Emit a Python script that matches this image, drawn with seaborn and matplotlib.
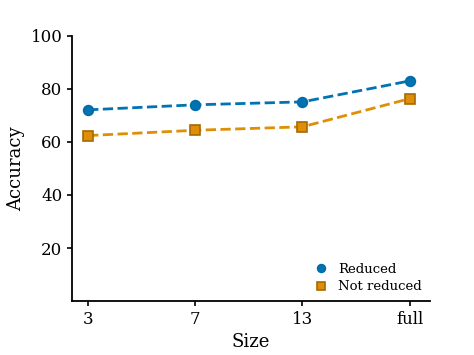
import matplotlib
matplotlib.use("Agg")
import matplotlib.pyplot as plt
import seaborn as sns
import pandas as pd

sizes = ["3", "7", "13", "full"]
reduced = [72.1, 74.0, 75.1, 83.0]
not_reduced = [62.4, 64.4, 65.7, 76.3]
y_ticks = [20, 40, 60, 80, 100]

sns.set_style("ticks", {"axes.edgecolor": "black", "xtick.color": "black",
                        "ytick.color": "black", "text.color": "black",
                        "axes.labelcolor": "black"})
plt.rcParams['font.family'] = ['DejaVu Serif']

df = pd.DataFrame({
    "Size": sizes * 2,
    "Accuracy": reduced + not_reduced,
    "Method": ["Reduced"] * 4 + ["Not reduced"] * 4,
})

pal = sns.color_palette("colorblind")
fig = plt.figure(figsize=(4.74, 3.55), dpi=100)
ax = fig.add_axes([0.152, 0.152, 0.755, 0.747])

sns.pointplot(data=df, x="Size", y="Accuracy", hue="Method",
              palette=[pal[0], pal[1]], markers=["o", "s"],
              linestyles=["--", "--"], ax=ax, markersize=7, linewidth=2.0)
for line in ax.lines:
    c = line.get_color()
    line.set_markeredgecolor(sns.set_hls_values(c, l=0.33))
    line.set_markeredgewidth(1.2)

ax.set_ylim(0, 100)
ax.set_yticks(y_ticks)
ax.set_xlim(-0.15, 3.19)
ax.tick_params(labelsize=12, width=1.2)
for s in ax.spines.values():
    s.set_linewidth(1.3)
ax.set_xlabel("Size", fontsize=13)
ax.set_ylabel("Accuracy", fontsize=13)
sns.despine(ax=ax)

handles, labels = ax.get_legend_handles_labels()
for h in handles:
    try:
        h.set_linestyle("none")
        h.set_markeredgecolor(sns.set_hls_values(h.get_color(), l=0.33))
    except Exception:
        pass
ax.legend(handles, labels, loc="lower right", frameon=False, fontsize=9.5,
          handletextpad=0.3, markerscale=0.8, borderaxespad=0.2,
          labelspacing=0.35)

fig.savefig("out.png", dpi=100)
